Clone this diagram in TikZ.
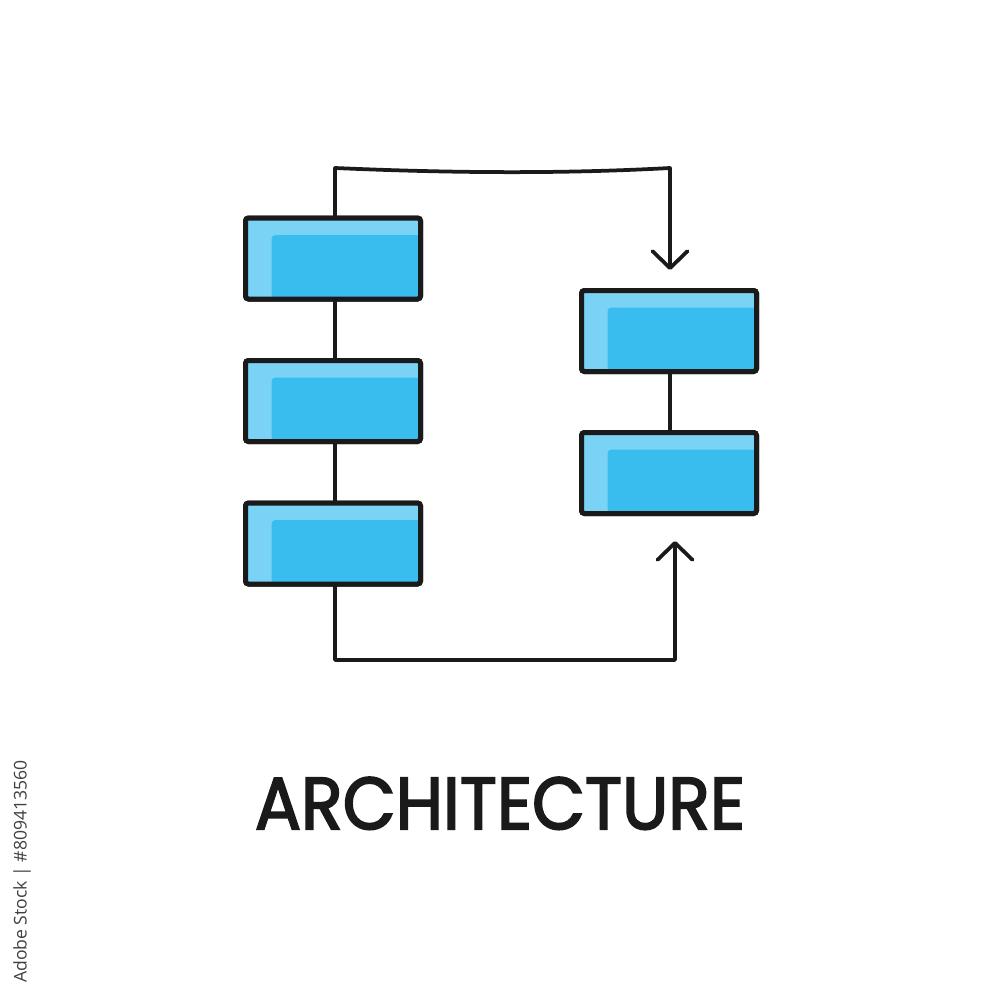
\documentclass[tikz,border=0pt]{standalone}
\usepackage{fontspec}
\setmainfont{Poppins}
\newfontfamily\titlefont[FakeBold=2.6]{Poppins}
\newfontfamily\idfont{Open Sans}
\usetikzlibrary{arrows.meta}
\definecolor{boxblue}{HTML}{39BDEE}
\definecolor{boxlight}{HTML}{7AD2F5}
\definecolor{inkblack}{HTML}{1A1A1A}
\tikzset{
  blockbox/.style={draw=inkblack, line width=1mm, fill=boxlight,
    minimum width=35mm, minimum height=16.2mm, inner sep=0pt,
    rounded corners=0.6mm,
    path picture={\fill[boxblue, rounded corners=0.8mm]
      ([xshift=5.2mm,yshift=-3.4mm]path picture bounding box.north west)
      -- ([yshift=-3.4mm]path picture bounding box.north east)
      -- (path picture bounding box.south east)
      -- ([xshift=5.2mm]path picture bounding box.south west) -- cycle;}},
  wire/.style={draw=inkblack, line width=0.75mm, line join=round, line cap=round},
  arr/.style={wire, -{Straight Barb[length=3.4mm,width=7mm,line cap=round,line join=round]}}
}
\begin{document}
\begin{tikzpicture}[x=0.2mm,y=-0.2mm]
\useasboundingbox[fill=white] (0,0) rectangle (1000,1000);
\coordinate (t1) at (335,168);
\coordinate (t2) at (670,168);
\coordinate (u1) at (335,660);
\coordinate (u2) at (675,660);
\coordinate (a1) at (670,270);
\coordinate (a2) at (675,541);
\node[blockbox] (b1) at (333,258.5) {};
\node[blockbox] (b2) at (333,401) {};
\node[blockbox] (b3) at (333,543.5) {};
\node[blockbox] (b4) at (669,331) {};
\node[blockbox] (b5) at (669,473) {};
\draw[wire] (b1.south -| t1) -- (b2.north -| t1);
\draw[wire] (b2.south -| t1) -- (b3.north -| t1);
\draw[wire] (b4.south -| t2) -- (b5.north -| t2);
\draw[arr] (b1.north -| t1) -- (t1) .. controls (450,173) and (560,174) .. (t2) -- (a1);
\draw[arr] (b3.south -| t1) -- (u1) -- (u2) -- (a2);
% redraw boxes on top of line ends
\node[blockbox] at (b1) {};
\node[blockbox] at (b2) {};
\node[blockbox] at (b3) {};
\node[blockbox] at (b4) {};
\node[blockbox] at (b5) {};
\node[inkblack, inner sep=0pt, anchor=south] (title) at (500,830)
  {\resizebox{98mm}{10.4mm}{\titlefont ARCHITECTURE}};
\node[black!75, rotate=90, anchor=east, inner sep=0pt, font=\idfont\fontsize{10pt}{10pt}\selectfont] (stockid) at (22,760) {Adobe Stock | \#809413560};
\end{tikzpicture}
\end{document}
